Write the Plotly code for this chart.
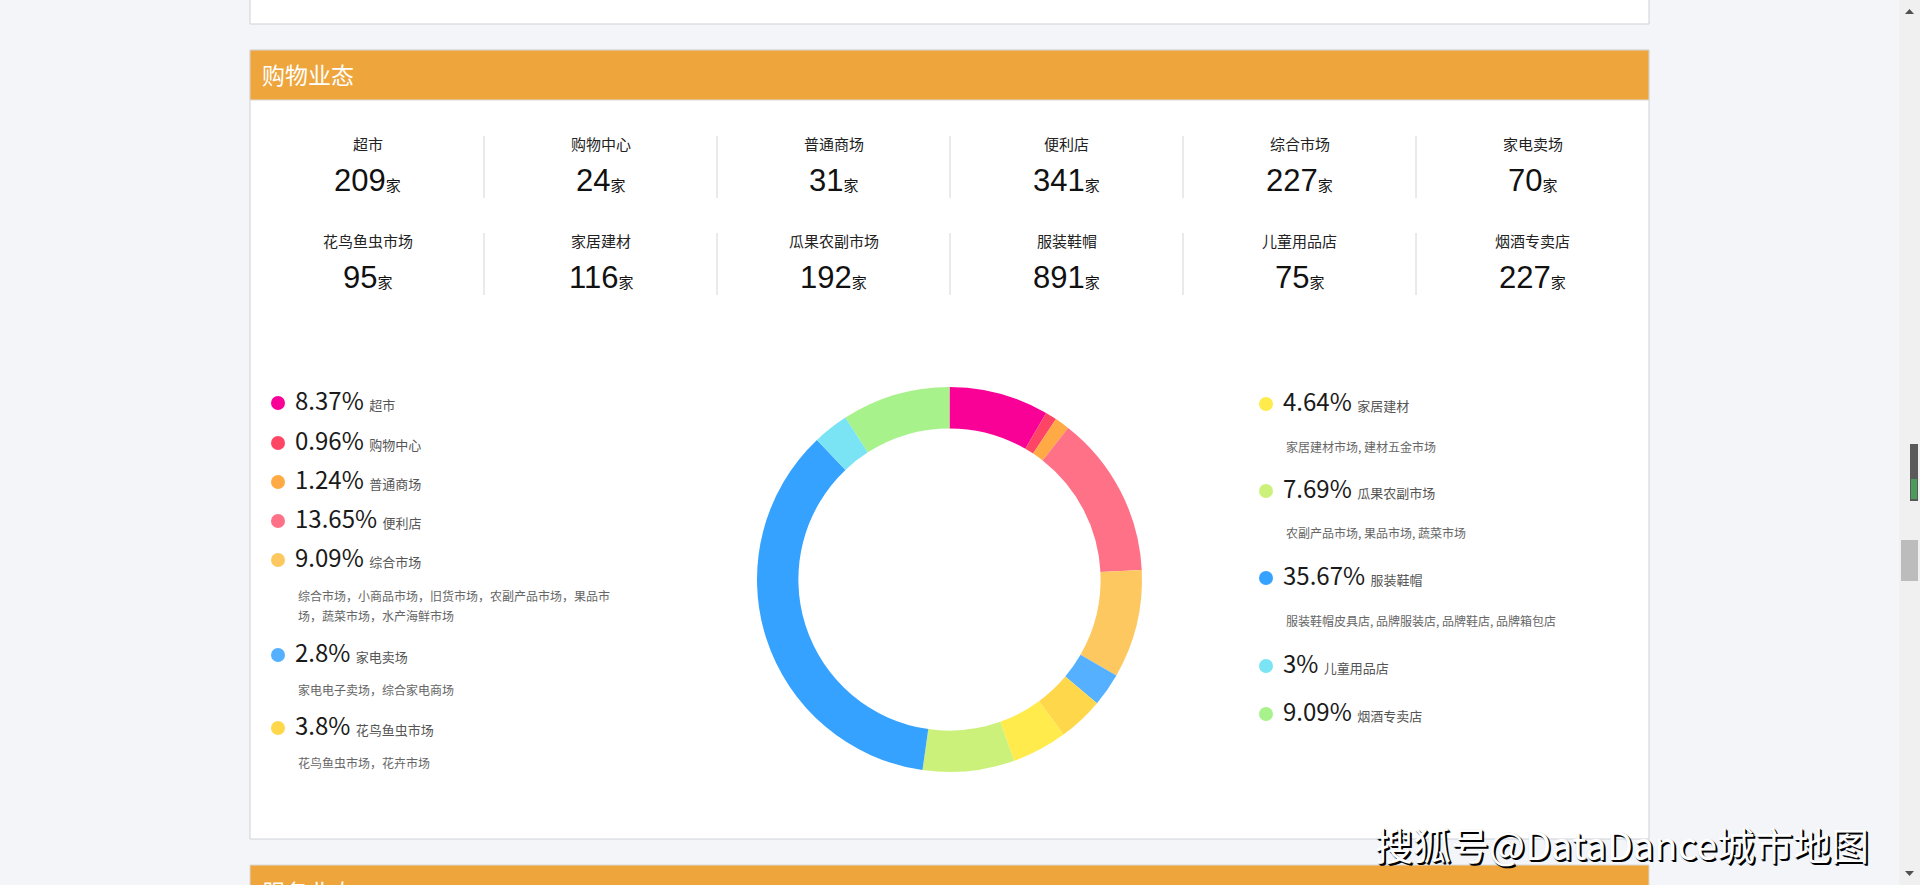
import plotly.graph_objects as go

# ---------------- data ----------------
section_title = "购物业态"
next_section_title = "服务业态"
categories = ["超市", "购物中心", "普通商场", "便利店", "综合市场", "家电卖场",
              "花鸟鱼虫市场", "家居建材", "瓜果农副市场", "服装鞋帽", "儿童用品店", "烟酒专卖店"]
counts = [209, 24, 31, 341, 227, 70, 95, 116, 192, 891, 75, 227]
unit = "家"
descriptions = [
    "", "", "", "",
    "综合市场，小商品市场，旧货市场，农副产品市场，果品市场，蔬菜市场，水产海鲜市场",
    "家电电子卖场，综合家电商场",
    "花鸟鱼虫市场，花卉市场",
    "家居建材市场, 建材五金市场",
    "农副产品市场, 果品市场, 蔬菜市场",
    "服装鞋帽皮具店, 品牌服装店, 品牌鞋店, 品牌箱包店",
    "",
    "",
]
watermark = "搜狐号@DataDance城市地图"

# ---------------- styles ----------------
colors = ["#F90097", "#FF4566", "#FFAA44", "#FF7187", "#FEC860", "#55B1FF",
          "#FFD74B", "#FFEB4C", "#CCF17A", "#36A2FF", "#7AE4F4", "#A7F28A"]
W, H = 1920, 885
PAGE_BG = "#f3f5f9"
ORANGE = "#EDA53C"
BORDER = "#cfd1d6"
CJK = "Noto Sans CJK SC"

total = sum(counts)
pcts = [f"{round(c / total * 100, 2):g}" for c in counts]

fig = go.Figure()

# donut
cx, cy, R = 949.5, 579.5, 192.5
fig.add_trace(go.Pie(
    labels=categories, values=counts, sort=False, direction="clockwise", rotation=0,
    hole=0.785, textinfo="none", hoverinfo="label+percent",
    marker=dict(colors=colors, line=dict(width=0)),
    domain=dict(x=[(cx - R) / W, (cx + R) / W], y=[1 - (cy + R) / H, 1 - (cy - R) / H]),
    showlegend=False,
))

shapes = []
annotations = []

def rect(x0, y0, x1, y1, fill, line=None, layer="below"):
    shapes.append(dict(type="rect", xref="x", yref="y", x0=x0, y0=y0, x1=x1, y1=y1,
                       fillcolor=fill, line=dict(width=1 if line else 0, color=line or fill),
                       layer=layer))

# previous panel (bottom part)
rect(250, -5, 1649, 24, "white", BORDER)
# main panel
rect(250, 50, 1649, 839, "white", BORDER)
rect(250, 50, 1649, 100, ORANGE, "#d9d9d9")
# next panel header
rect(250, 865, 1649, 900, ORANGE, "#d9d9d9")

annotations.append(dict(xref="x", yref="y", x=260, y=74, xanchor="left", yanchor="middle",
                        text=section_title, showarrow=False,
                        font=dict(family=CJK, size=23, color="white")))
annotations.append(dict(xref="paper", yref="paper", x=260 / W, y=1 - 891 / H, xanchor="left",
                        yanchor="middle", text=next_section_title, showarrow=False,
                        font=dict(family=CJK, size=23, color="white")))

# stats grid
col_w = 233
x_start = 251
label_y = [143, 240]
num_y = [180, 277]
div_y = [(136, 198), (233, 295)]
for i, (cat, cnt) in enumerate(zip(categories, counts)):
    r, c = divmod(i, 6)
    xc = x_start + col_w * c + col_w / 2
    annotations.append(dict(xref="x", yref="y", x=xc, y=label_y[r], xanchor="center", yanchor="middle",
                            text=cat, showarrow=False, font=dict(family=CJK, size=15, color="#222")))
    annotations.append(dict(xref="x", yref="y", x=xc, y=num_y[r], xanchor="center", yanchor="middle",
                            text=f"{cnt}<span style='font-size:15px;font-family:Noto Sans CJK SC'>{unit}</span>",
                            showarrow=False, font=dict(family="Liberation Sans, Arial", size=31, color="#111")))
for r in range(2):
    for c in range(1, 6):
        x = x_start + col_w * c
        shapes.append(dict(type="line", xref="x", yref="y", x0=x, x1=x, y0=div_y[r][0], y1=div_y[r][1],
                           line=dict(color="#d4d4d4", width=1), layer="below"))

# custom legends
left_idx = [0, 1, 2, 3, 4, 5, 6]
left_rows = [403, 443, 482, 521, 560, 655, 728]
left_desc = {4: [595, 615], 5: [689], 6: [762]}
right_idx = [7, 8, 9, 10, 11]
right_rows = [404, 491, 578, 666, 714]
right_desc = {7: [446], 8: [532], 9: [620]}

def wrap(s, n):
    return [s[k:k + n] for k in range(0, len(s), n)]

dot_x, dot_y, dot_c = [], [], []
for idxs, rows, descs, xd, xt, wrapn in [
    (left_idx, left_rows, left_desc, 278, 296, 26),
    (right_idx, right_rows, right_desc, 1266, 1284, 60),
]:
    for i, y in zip(idxs, rows):
        dot_x.append(xd); dot_y.append(y); dot_c.append(colors[i])
        annotations.append(dict(
            xref="x", yref="y", x=xt - 3, y=y - 4, xanchor="left", yanchor="middle", showarrow=False,
            text=f"<span style='font-size:24px;color:#1a1a1a'>{pcts[i]}% </span>"
                 f"<span style='font-size:13px;color:#555'>{categories[i]}</span>",
            font=dict(family=CJK, size=13, color="#555")))
        if i in descs:
            for line, ly in zip(wrap(descriptions[i], wrapn), descs[i]):
                annotations.append(dict(xref="x", yref="y", x=xt, y=ly, xanchor="left", yanchor="middle",
                                        showarrow=False, text=line,
                                        font=dict(family=CJK, size=12, color="#666")))

fig.add_trace(go.Scatter(x=dot_x, y=dot_y, mode="markers", hoverinfo="skip", showlegend=False,
                         marker=dict(size=14, color=dot_c, line=dict(width=0))))

# scrollbar
rect(1899, 0, 1920, 885, "#f0f0f0")
rect(1901, 540, 1918, 581, "#bcbcbc")
shapes.append(dict(type="path", xref="x", yref="y", path="M 1905 14 L 1914 14 L 1909.5 9 Z",
                   fillcolor="#505050", line=dict(width=0), layer="below"))
shapes.append(dict(type="path", xref="x", yref="y", path="M 1905 871 L 1914 871 L 1909.5 876 Z",
                   fillcolor="#505050", line=dict(width=0), layer="below"))
rect(1910, 444, 1918, 501, "#5a5a5a")
for yy in range(480, 500, 2):
    shapes.append(dict(type="line", xref="x", yref="y", x0=1911, x1=1917, y0=yy, y1=yy,
                       line=dict(color="#3ddc5a", width=1), layer="below"))

# watermark
annotations.append(dict(xref="x", yref="y", x=1622, y=843, xanchor="center", yanchor="middle",
                        showarrow=False, text=watermark,
                        font=dict(family=CJK, size=38, color="white",
                                  shadow="2px 2px 0px #000, 1px 1px 1px #000")))

fig.update_layout(
    width=W, height=H, margin=dict(l=0, r=0, t=0, b=0),
    paper_bgcolor=PAGE_BG, plot_bgcolor="rgba(0,0,0,0)",
    xaxis=dict(range=[0, W], visible=False, fixedrange=True, domain=[0, 1]),
    yaxis=dict(range=[H, 0], visible=False, fixedrange=True, domain=[0, 1]),
    shapes=shapes, annotations=annotations, showlegend=False,
)

fig.write_html("out.html", config={"displayModeBar": False})
